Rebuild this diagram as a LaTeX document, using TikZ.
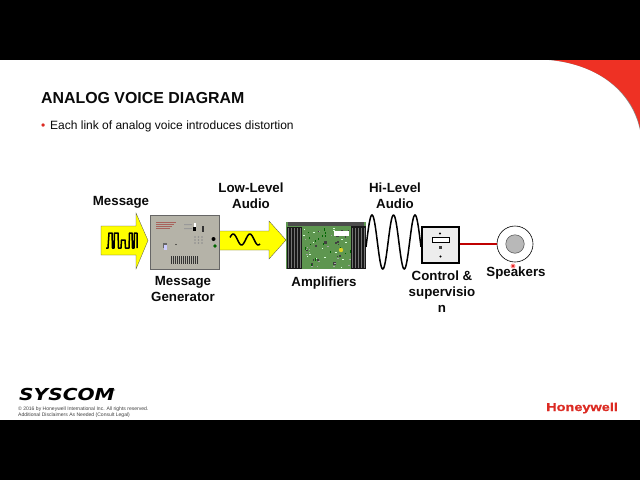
\documentclass[tikz,border=0pt]{standalone}
\usepackage{fontspec}
\setmainfont{Liberation Sans}
\newfontfamily\logofont{DejaVu Sans}
\definecolor{hwred}{HTML}{DC2A22}
\definecolor{cornerred}{HTML}{EE3124}
\definecolor{arrowyellow}{HTML}{FFFF00}
\definecolor{panel}{HTML}{B5B3A8}
\definecolor{board}{HTML}{5E9650}
\definecolor{bodytext}{HTML}{0A0A0A}
\tikzset{
  lab/.style={font=\fontsize{13.3}{16}\selectfont\bfseries, text=bodytext, align=center, inner sep=0pt},
  bigarrow/.style={fill=arrowyellow, draw=black!70, line width=0.3pt},
  wave/.style={draw=black, line width=1.5pt, line join=round},
  device/.style={inner sep=0pt, minimum width=#1},
}
\begin{document}
\begin{tikzpicture}[x=1pt,y=-1pt]
\useasboundingbox (0,0) rectangle (640,480);
\fill[white] (0,0) rectangle (640,480);
% red corner
\fill[black!45] (549,60) .. controls (600,64.5) and (632,93) .. (640,130) -- (640,60) -- cycle;
\fill[cornerred] (552,60) .. controls (602,66) and (633,94) .. (640,128) -- (640,60) -- cycle;
% bands
\fill[black] (0,0) rectangle (640,60);
\fill[black] (0,420) rectangle (640,480);
% title
\node[anchor=base west, inner sep=0pt, font=\fontsize{15.9}{16}\selectfont\bfseries, text=bodytext] (title) at (41,103.5) {ANALOG VOICE DIAGRAM};
\node[anchor=base west, inner sep=0pt, font=\fontsize{12}{14}\selectfont, text=hwred] (bul) at (41,129) {•};
\node[anchor=base west, inner sep=0pt, font=\fontsize{12}{14}\selectfont, text=bodytext] (sub) at (50,129) {Each link of analog voice introduces distortion};

% arrows
\draw[bigarrow] (101,226) -- (136,226) -- (136,213) -- (148,240.5) -- (136,269) -- (136,255) -- (101,255) -- cycle;
\draw[bigarrow] (219,231) -- (269,231) -- (269,221) -- (286,240) -- (269,259) -- (269,250) -- (219,250) -- cycle;
% square wave
\draw[wave] (106,248) -- (108,248) -- (109,233) -- (112,233) -- (112.5,248) -- (114,248) -- (114.5,233) -- (118,233) -- (118.5,248) -- (121,248) -- (121.5,240) -- (125,240) -- (125.5,248) -- (129,248) -- (129.5,233) -- (132,233) -- (132.5,248) -- (134,248) -- (134.5,233) -- (137,233) -- (137,248);
% low level sine
\draw[wave] plot[domain=230:260,samples=50,smooth] (\x,{239.5-5.5*sin((\x-229)/16.7*360)});

% message generator
\node[device=69pt, minimum height=54pt, fill=panel, draw=black!60, line width=0.8pt] (gen) at (184.5,242) {};
\foreach \yy in {0,1,2,3} \fill[red!60!black,opacity=.45] (156,222+\yy*2) rectangle (176-\yy*2,222.8+\yy*2);
\fill[white] (194,223) rectangle (196,230);
\fill[black] (193,227) rectangle (196,231);
\fill[black!80] (202,226) rectangle (204,232);
\fill[black!40] (184,224) rectangle (192,225) (184,228) rectangle (192,229);
\foreach \xx in {195,198.5,202} \foreach \yy in {237,240,243} \fill[black!45] (\xx,\yy) circle (0.8);
\fill[black] (213.5,239) circle (2);
\fill[black!60!green] (215,246) circle (1.8);
\fill[black!60] (163,243) rectangle (167,248);
\fill[white!80!blue] (163.5,245) rectangle (166.5,250);
\fill[black] (176,244.5) circle (0.6);
\foreach \i in {0,...,13} \fill[black!80] (170.5+\i*2,256) rectangle (171.5+\i*2,264);

% amplifier
\node[device=80pt, minimum height=47pt, fill=board] (amp) at (326,245.5) {};
\fill[black!90] (286.5,227) rectangle (302,269);
\fill[black!90] (351,226) rectangle (366,269);
\foreach \i in {0,...,4} \draw[black!55,line width=.3pt] (288+\i*3,228) -- (288+\i*3,268) (352+\i*3,228) -- (352+\i*3,268);
\fill[black!70] (288,222) rectangle (364,226);
\pgfmathsetseed{7}
\foreach \i in {1,...,70} {
  \pgfmathsetmacro{\px}{303+47*rnd}
  \pgfmathsetmacro{\py}{227+40*rnd}
  \pgfmathsetmacro{\pw}{.8+2*rnd}
  \pgfmathsetmacro{\ps}{int(mod(\i,4))}
  \ifnum\ps=0 \fill[black!75] (\px,\py) rectangle ++(\pw,\pw);
  \else\ifnum\ps=1 \fill[white!85!green] (\px,\py) rectangle ++(\pw,1);
  \else\ifnum\ps=2 \fill[green!40!black] (\px,\py) rectangle ++(1,\pw);
  \else \fill[black!35] (\px,\py) rectangle ++(\pw,.8); \fi\fi\fi
}
\fill[yellow!85!black] (341,250) circle (2.2);
\fill[white] (334,231) rectangle (349,236);

% control box
\node[device=37pt, minimum height=36pt, fill=white!93!black, draw=black, line width=1.4pt] (ctrl) at (440.5,245) {};
\draw[black, fill=white, line width=.6pt] (432,237) rectangle (449,242.5);
\fill[black] (440,233.5) circle (1.1);
\fill[black!75] (438.5,245.5) rectangle (441.5,248.5);
\fill[black] (440.5,256.5) circle (1.1);

% speaker
\node[circle, draw=black, line width=.6pt, fill=white, minimum size=36pt, inner sep=0pt] (spk) at (515,244) {};
\node[circle, draw=black!70, line width=.5pt, fill=black!28, minimum size=18.5pt, inner sep=0pt] (cone) at (515,244) {};

% connectors
\draw[black, line width=1.5pt] plot[domain=366:421,samples=140,smooth] (\x,{242-27*cos((\x-372)/21.5*360)});
\draw[red!75!black, line width=1.5pt] (ctrl.east |- spk.west) -- (spk.west);

% labels
\node[lab] (l1) at (121,202) {Message};
\node[lab] (l2) at (251,195.5) {Low-Level\\Audio};
\node[lab] (l3) at (183,289) {Message\\Generator};
\node[lab] (l4) at (324,283) {Amplifiers};
\node[lab] (l5) at (395,195.5) {Hi-Level\\Audio};
\node[lab] (l6) at (442,292) {Control \&\\supervisio\\n};
\node[lab] (l7) at (516,273) {Speakers};
\node[circle, fill=red!75, minimum size=5pt, inner sep=0pt, opacity=.55] (dota) at (513,266) {};
\node[circle, fill=red!85!black, minimum size=2.4pt, inner sep=0pt] (dotb) at (513,266) {};

% logos
\node[anchor=base west, inner sep=0pt, font=\logofont\fontsize{16.5}{16}\selectfont\bfseries\itshape, text=black] (syscom) at (19,400) {\addfontfeatures{FakeStretch=1.22}SYSCOM};
\node[anchor=base west, inner sep=0pt, font=\fontsize{3}{3}\selectfont, text=black] (reg) at (113,391) {®};
\node[anchor=base west, inner sep=0pt, font=\fontsize{5.05}{6}\selectfont, text=black!75] (legala) at (18,410) {© 2016 by Honeywell International Inc. All rights reserved.};
\node[anchor=base west, inner sep=0pt, font=\fontsize{5.05}{6}\selectfont, text=black!75] (legalb) at (18,416) {Additional Disclaimers As Needed (Consult Legal)};
\node[anchor=base west, inner sep=0pt, font=\fontsize{11.5}{12}\selectfont\bfseries, text=hwred] (hw) at (546,411) {\addfontfeatures{FakeStretch=1.26,FakeBold=0.6}Honeywell};
\end{tikzpicture}
\end{document}
